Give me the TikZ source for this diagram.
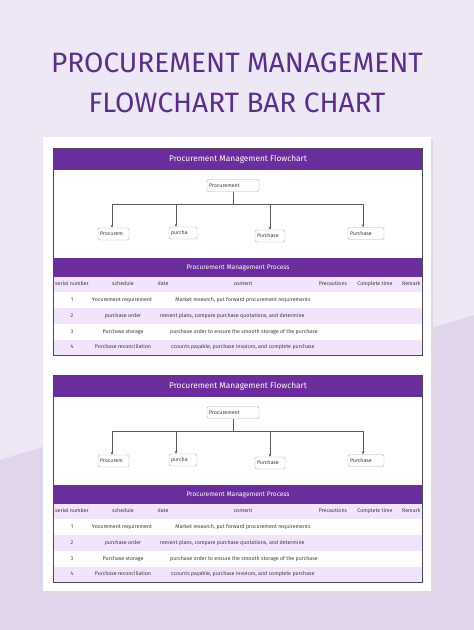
\documentclass[tikz,border=0pt]{standalone}
\usepackage{fontspec}
\setmainfont{Fira Sans}
\usetikzlibrary{arrows.meta}
\definecolor{bgtop}{HTML}{EEE7F5}
\definecolor{bgbot}{HTML}{E0D5EA}
\definecolor{titlepurple}{HTML}{5B2E86}
\definecolor{barpurple}{HTML}{6B2D9B}
\definecolor{rowlav}{HTML}{F2E4FB}
\definecolor{edgegray}{HTML}{4F4659}
\definecolor{linegray}{HTML}{5A5A5A}
\definecolor{textgray}{HTML}{3C3C3C}
\begin{document}
\begin{tikzpicture}[x=1pt,y=-1pt]
\tikzset{
  bar/.style={fill=barpurple},
  bartext/.style={text=white, font=\fontsize{8.3}{9}\selectfont},
  fbox/.style={draw=gray!60, rounded corners=1.5pt, fill=white, text=textgray,
    font=\fontsize{5.3}{6}\selectfont, inner sep=2pt, align=left, minimum height=12pt},
  cell/.style={text=textgray, font=\fontsize{5.3}{6}\selectfont, inner sep=0pt,
    text height=3.8pt, text depth=1.2pt},
  link/.style={draw=linegray, line width=.6pt},
  arrowlink/.style={link, -{Stealth[length=3pt,width=2.6pt]}}
}
\useasboundingbox (0,0) rectangle (474,630);
% background
\fill[bgtop] (0,0) rectangle (474,630);
\fill[bgbot] (0,460) -- (474,315) -- (474,630) -- (0,630) -- cycle;
% title
\node[text=titlepurple, font=\fontsize{28}{30}\selectfont] (title1) at (237,63) {PROCUREMENT MANAGEMENT};
\node[text=titlepurple, font=\fontsize{28}{30}\selectfont] (title2) at (237,103) {FLOWCHART BAR CHART};
% sheet
\fill[black!14] (44,139) rectangle (433,593);
\fill[white] (43,137) rectangle (431,591);

\foreach \s in {0,227} {
\begin{scope}[shift={(0,\s)}]
% flowchart part
\fill[bar] (53,148) rectangle (422,170);
\node[bartext] (fhead\s) at (238,159) {Procurement Management Flowchart};
\node[fbox, text width=48pt] (root\s) at (233,185.5) {Procurement};
\node[fbox, text width=27pt] (c1\s) at (113.5,234) {Procurem};
\node[fbox, text width=24pt] (c2\s) at (183,233) {purcha};
\node[fbox, text width=26pt] (c3\s) at (270,236) {Purchase};
\node[fbox, text width=32pt] (c4\s) at (366,233.5) {Purchase};
\coordinate (b1\s) at (112,204);
\coordinate (b2\s) at (176,204);
\coordinate (b3\s) at (270,204);
\coordinate (b4\s) at (363,204);
\draw[link] (root\s.south) -- (root\s.south |- b1\s);
\draw[link] (b1\s) -- (b4\s);
\draw[arrowlink] (b1\s) -- (b1\s |- c1\s.north);
\draw[arrowlink] (b2\s) -- (b2\s |- c2\s.north);
\draw[arrowlink] (b3\s) -- (b3\s |- c3\s.north);
\draw[arrowlink] (b4\s) -- (b4\s |- c4\s.north);
% table part
\fill[bar] (53,258) rectangle (422,277);
\node[bartext, font=\fontsize{6.6}{7}\selectfont] (thead\s) at (238,267.5) {Procurement Management Process};
\fill[rowlav] (53,277) rectangle (422,292);
\fill[rowlav] (53,308) rectangle (422,324);
\fill[rowlav] (53,340) rectangle (422,355);
\node[cell] (h1\s) at (72,284.5) {serial number};
\node[cell] (h2\s) at (123,284.5) {schedule};
\node[cell] (h3\s) at (163,284.5) {date};
\node[cell] (h4\s) at (243,284.5) {content};
\node[cell] (h5\s) at (333,284.5) {Precautions};
\node[cell] (h6\s) at (375,284.5) {Complete time};
\node[cell, anchor=west] (h7\s) at (402,284.5) {Remark};
\node[cell] (n1\s) at (72,300) {1};
\node[cell] (n2\s) at (72,316) {2};
\node[cell] (n3\s) at (72,332) {3};
\node[cell] (n4\s) at (72,347.5) {4};
\begin{scope}
\clip (92,292) rectangle (156,355);
\node[cell] (s1\s) at (121,300) {Procurement requirement};
\end{scope}
\node[cell] (s2\s) at (123,316) {purchase order};
\node[cell] (s3\s) at (123,332) {Purchase storage};
\node[cell] (s4\s) at (123,347.5) {Purchase reconciliation};
\begin{scope}
\clip (160,292) rectangle (319.5,355);
\node[cell] (t1\s) at (243,300) {Market research, put forward procurement requirements};
\node[cell, anchor=west] (t2\s) at (160,316) {rement plans, compare purchase quotations, and determine};
\node[cell, anchor=west] (t3\s) at (170,332) {purchase order to ensure the smooth storage of the purchase};
\node[cell, anchor=west] (t4\s) at (171,347.5) {ccounts payable, purchase invoices, and complete purchase};
\end{scope}
\draw[edgegray, line width=.6pt] (53,148) rectangle (422,355);
\end{scope}
}
\end{tikzpicture}
\end{document}
